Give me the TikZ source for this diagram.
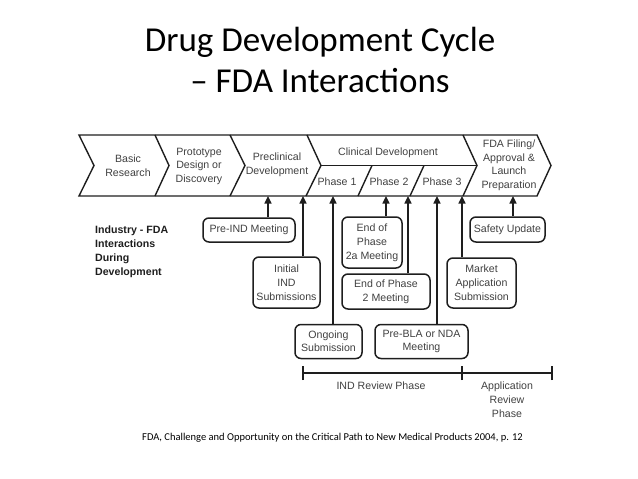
\documentclass[tikz,border=0pt]{standalone}
\usepackage{fontspec}
\setmainfont{Liberation Sans}
\newfontfamily\calib{Carlito}
\usetikzlibrary{arrows.meta}
\definecolor{ink}{HTML}{1E1E1E}
\definecolor{txt}{HTML}{404040}
\tikzset{
  band/.style={draw=ink, line width=1.4pt, line join=miter},
  lbl/.style={text=txt, font=\fontsize{10.6}{13.5}\selectfont, align=center, inner sep=0pt},
  meet/.style={draw=ink, line width=1.5pt, rounded corners=6pt, text=txt,
     font=\fontsize{10.6}{13.8}\selectfont, align=center, inner sep=0pt},
  up/.style={draw=ink, line width=1.5pt, -{Triangle[width=7pt,length=7.5pt]}},
  tl/.style={draw=ink, line width=1.4pt},
}
\begin{document}
\begin{tikzpicture}[x=1pt,y=-1pt]
\useasboundingbox (0,0) rectangle (638,479);
% title
\node[font=\calib\fontsize{35}{41}\selectfont, anchor=base, inner sep=0pt] (t1) at (320,51) {Drug Development Cycle};
\node[font=\calib\fontsize{35}{41}\selectfont, anchor=base, inner sep=0pt] (t2) at (320,92) {– FDA Interactions};
% band
\draw[band] (79,135) -- (537,135) -- (551,165.5) -- (537,196) -- (79,196) -- (94,165.5) -- cycle;
\draw[band] (155,135) -- (169,165.5) -- (155,196);
\draw[band] (230,135) -- (245,165.5) -- (230,196);
\draw[band] (307,135) -- (321,165.5) -- (306,196);
\draw[band] (463,135) -- (477,165.5) -- (463,196);
\draw[band] (321,165.5) -- (477,165.5);
\draw[band] (372,165.5) -- (358,196);
\draw[band] (424,165.5) -- (410,196);
\node[lbl] (basic) at (128,165.5) {Basic\\Research};
\node[lbl] (proto) at (199,166) {Prototype\\Design or\\Discovery};
\node[lbl] (precl) at (277,165) {Preclinical\\Development};
\node[lbl] (clin) at (388,152.5) {Clinical Development};
\node[lbl] (ph1) at (337,181.5) {Phase 1};
\node[lbl] (ph2) at (389,181.5) {Phase 2};
\node[lbl] (ph3) at (442,181.5) {Phase 3};
\node[lbl] (fda) at (509,165.5) {FDA Filing/\\Approval \&\\Launch\\Preparation};
% arrow targets on band bottom
\foreach \n/\x in {a1/268,a2/303,a3/333,a4/386,a5/408,a6/437,a7/462,a8/513}
  \coordinate (\n) at (\x,196);
% left label
\node[font=\bfseries\fontsize{10.6}{14}\selectfont, text=ink, align=left, anchor=west, inner sep=0pt] (ind) at (95,251.5) {Industry - FDA\\Interactions\\During\\Development};
% meeting boxes
\node[meet, minimum width=92pt, minimum height=24pt] (preind) at (249,230) {Pre-IND Meeting};
\node[meet, minimum width=67pt, minimum height=51pt] (initial) at (286.5,282.5) {Initial\\IND\\Submissions};
\node[meet, minimum width=60pt, minimum height=51pt] (eop2a) at (372,242.5) {End of\\Phase\\2a Meeting};
\node[meet, minimum width=88pt, minimum height=35pt] (eop2) at (386,291.5) {End of Phase\\2 Meeting};
\node[meet, minimum width=75pt, minimum height=25pt] (safety) at (507.5,229.5) {Safety Update};
\node[meet, minimum width=69pt, minimum height=50pt] (market) at (481.5,283) {Market\\Application\\Submission};
\node[meet, minimum width=67pt, minimum height=34pt, font=\fontsize{10.6}{13}\selectfont] (ongoing) at (328.5,341.5) {Ongoing\\Submission};
\node[meet, minimum width=93pt, minimum height=34pt, font=\fontsize{10.6}{13}\selectfont] (prebla) at (421.5,341.5) {Pre-BLA or NDA\\Meeting};
% arrows
\draw[up] (a1 |- preind.north) -- (a1);
\draw[up] (a2 |- initial.north) -- (a2);
\draw[up] (a3 |- ongoing.north) -- (a3);
\draw[up] (a4 |- eop2a.north) -- (a4);
\draw[up] (a5 |- eop2.north) -- (a5);
\draw[up] (a6 |- prebla.north) -- (a6);
\draw[up] (a7 |- market.north) -- (a7);
\draw[up] (a8 |- safety.north) -- (a8);
% timeline
\coordinate (l0) at (303,373);
\coordinate (l1) at (462,373);
\coordinate (l2) at (552,373);
\draw[tl] (l0) -- (l2);
\foreach \c in {l0,l1,l2} \draw[tl] ([yshift=-7pt]\c) -- ([yshift=7pt]\c);
\node[lbl] (indr) at (381,385.5) {IND Review Phase};
\node[lbl, font=\fontsize{10.6}{14}\selectfont] (appr) at (507,399.5) {Application\\Review\\Phase};
% caption
\node[font=\calib\fontsize{10.5}{13}\selectfont, anchor=base, inner sep=0pt] (cap) at (332.5,440) {FDA, Challenge and Opportunity on the Critical Path to New Medical Products 2004, p. 12};
\end{tikzpicture}
\end{document}
